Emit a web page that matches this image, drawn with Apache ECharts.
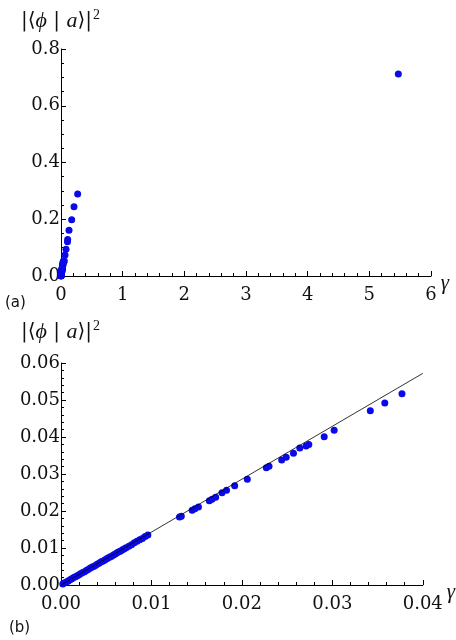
<!DOCTYPE html>
<html>
<head>
<meta charset="utf-8">
<script src="https://cdn.jsdelivr.net/npm/echarts@6/dist/echarts.min.js"></script>
<style>
  html, body { margin: 0; padding: 0; background: #fff; }
  #chart { width: 456px; height: 640px; }
</style>
</head>
<body>
<div id="chart"></div>
<script>
// small gamma points (shown in both panels)
var smallGamma = [0.0002, 0.0004, 0.0006, 0.0008, 0.0010, 0.0012, 0.0014, 0.0016, 0.0018, 0.0020,
  0.0022, 0.0024, 0.0026, 0.0028, 0.0030, 0.0032, 0.0034, 0.0036, 0.0038, 0.0040,
  0.0042, 0.0044, 0.0046, 0.0048, 0.0050, 0.0052, 0.0054, 0.0056, 0.0058, 0.0060,
  0.0062, 0.0064, 0.0066, 0.0068, 0.0070, 0.0072, 0.0075, 0.0078, 0.0081, 0.0084,
  0.0087, 0.0090, 0.0093, 0.0096,
  0.0131, 0.0133, 0.0145, 0.0148, 0.0152, 0.0164, 0.0167, 0.0171, 0.0178, 0.0183,
  0.0192, 0.0206, 0.0227, 0.0230, 0.0244, 0.0249, 0.0257, 0.0264, 0.0271, 0.0274,
  0.0291, 0.0302, 0.0342, 0.0358, 0.0377];
var smallProb = [0.0003, 0.0006, 0.0008, 0.0011, 0.0014, 0.0017, 0.0020, 0.0022, 0.0025, 0.0028,
  0.0031, 0.0034, 0.0036, 0.0039, 0.0042, 0.0045, 0.0048, 0.0050, 0.0053, 0.0056,
  0.0059, 0.0062, 0.0064, 0.0067, 0.0070, 0.0073, 0.0076, 0.0078, 0.0081, 0.0084,
  0.0087, 0.0090, 0.0092, 0.0095, 0.0098, 0.0101, 0.0105, 0.0109, 0.0114, 0.0118,
  0.0122, 0.0126, 0.0131, 0.0135,
  0.0184, 0.0186, 0.0202, 0.0206, 0.0211, 0.0228, 0.0232, 0.0237, 0.0249, 0.0256,
  0.0268, 0.0286, 0.0317, 0.0321, 0.0338, 0.0345, 0.0356, 0.0370, 0.0376, 0.0380,
  0.0401, 0.0418, 0.0471, 0.0492, 0.0517];

// larger gamma points (panel a only)
var bigGamma = [0.054, 0.065, 0.081, 0.105, 0.108, 0.130, 0.173, 0.211, 0.270, 5.47];
var bigProb  = [0.053, 0.074, 0.094, 0.121, 0.129, 0.161, 0.198, 0.244, 0.289, 0.712];

// reference line in panel b
var lineGamma = [0, 0.04];
var lineProb  = [0, 0.0572];

function pairs(xs, ys) {
  return xs.map(function (x, i) { return [x, ys[i]]; });
}

var chart = echarts.init(document.getElementById('chart'));

var tickFont = { fontFamily: 'DejaVu Serif', fontSize: 18, color: '#111' };
var dotColor = '#0a0ae8';

function xAxisOf(grid, max, interval, digits) {
  return {
    type: 'value', gridIndex: grid, min: 0, max: max, interval: interval,
    name: 'γ', nameLocation: 'end', nameGap: 6,
    nameTextStyle: { fontFamily: 'Liberation Serif', fontStyle: 'italic', fontSize: 21, color: '#111', verticalAlign: 'top', padding: [-3, 0, 0, 0] },
    axisLine: { lineStyle: { color: '#000', width: 1 } },
    axisTick: { inside: true, length: 5, lineStyle: { color: '#000' } },
    minorTick: { show: true, splitNumber: 5, length: 3, lineStyle: { color: '#000' } },
    splitLine: { show: false },
    axisLabel: Object.assign({ margin: 10, formatter: function (v) { return v.toFixed(digits); } }, tickFont)
  };
}
function yAxisOf(grid, max, interval, digits, split) {
  return {
    type: 'value', gridIndex: grid, min: 0, max: max, interval: interval,
    axisLine: { show: true, lineStyle: { color: '#000', width: 1 } },
    axisTick: { show: true, inside: true, length: 5, lineStyle: { color: '#000' } },
    minorTick: { show: true, splitNumber: split, length: 3, lineStyle: { color: '#000' } },
    splitLine: { show: false },
    axisLabel: Object.assign({ margin: 1, formatter: function (v) { return v.toFixed(digits); } }, tickFont)
  };
}

function yTitle(top) {
  return {
    type: 'text', left: 21, top: top, silent: true,
    style: {
      text: '{n||⟨}{i|ϕ}{n| | }{i|a}{n|⟩|}{s|2}',
      rich: {
        n: { fontFamily: 'DejaVu Serif', fontSize: 20, fill: '#111' },
        i: { fontFamily: 'Liberation Serif', fontStyle: 'italic', fontSize: 22, fill: '#111' },
        s: { fontFamily: 'Liberation Serif', fontSize: 14, fill: '#111', padding: [0, 0, 12, 1] }
      }
    }
  };
}

var option = {
  backgroundColor: '#fff',
  animation: false,
  grid: [
    { left: 61, right: 25, top: 49, height: 227 },
    { left: 61, right: 31, top: 363, height: 222 }
  ],
  xAxis: [xAxisOf(0, 6, 1, 0), xAxisOf(1, 0.04, 0.01, 2)],
  yAxis: [yAxisOf(0, 0.8, 0.2, 1, 4), yAxisOf(1, 0.06, 0.01, 2, 5)],
  graphic: [
    yTitle(8),
    yTitle(319),
    { type: 'text', left: 5, top: 296, style: { text: '(a)', fontFamily: 'DejaVu Sans', fontSize: 15, fill: '#111' } },
    { type: 'text', left: 9, top: 621, style: { text: '(b)', fontFamily: 'DejaVu Sans', fontSize: 15, fill: '#111' } }
  ],
  series: [
    {
      type: 'scatter', xAxisIndex: 0, yAxisIndex: 0, symbolSize: 7,
      itemStyle: { color: dotColor, opacity: 1 },
      data: pairs(smallGamma, smallProb).concat(pairs(bigGamma, bigProb))
    },
    {
      type: 'line', xAxisIndex: 1, yAxisIndex: 1, symbol: 'none',
      lineStyle: { color: '#000', width: 0.8 },
      data: pairs(lineGamma, lineProb)
    },
    {
      type: 'scatter', xAxisIndex: 1, yAxisIndex: 1, symbolSize: 7,
      itemStyle: { color: dotColor, opacity: 1 },
      data: pairs(smallGamma, smallProb)
    }
  ]
};

chart.setOption(option);
</script>
</body>
</html>
